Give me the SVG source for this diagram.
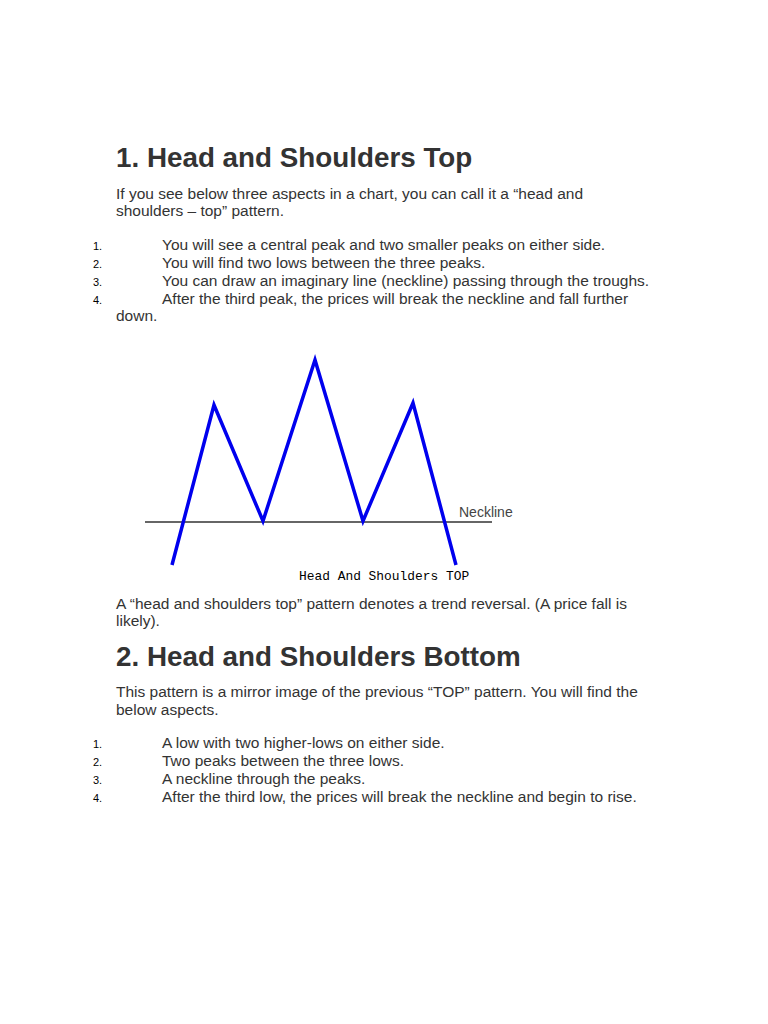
<svg xmlns="http://www.w3.org/2000/svg" width="768" height="1024" viewBox="0 0 768 1024">
<style>
.h{font-family:"Liberation Sans",Arial,sans-serif;font-weight:bold;font-size:27.8px;fill:#333}
.b{font-family:"Liberation Sans",Arial,sans-serif;font-size:15.5px;fill:#333}
.n{font-family:"Liberation Sans",Arial,sans-serif;font-size:11px;fill:#000}
.m{font-family:"Liberation Mono","Courier New",monospace;font-size:12.9px;fill:#000}
</style>
<rect width="768" height="1024" fill="#fff"/>
<text class="h" x="116" y="167">1. Head and Shoulders Top</text>
<text class="b" x="116" y="199">If you see below three aspects in a chart, you can call it a “head and</text>
<text class="b" x="116" y="216">shoulders – top” pattern.</text>
<text class="n" x="93" y="250">1.</text><text class="b" x="162" y="250">You will see a central peak and two smaller peaks on either side.</text>
<text class="n" x="93" y="268">2.</text><text class="b" x="162" y="268">You will find two lows between the three peaks.</text>
<text class="n" x="93" y="286">3.</text><text class="b" x="162" y="286">You can draw an imaginary line (neckline) passing through the troughs.</text>
<text class="n" x="93" y="304">4.</text><text class="b" x="162" y="304">After the third peak, the prices will break the neckline and fall further</text>
<text class="b" x="116" y="321">down.</text>
<line x1="145" y1="522" x2="492" y2="522" stroke="#333" stroke-width="1.5"/>
<polyline points="172,565 214,405 263,521 315,360 363,521 413,403 456,565" fill="none" stroke="#0000ee" stroke-width="3.5" stroke-linejoin="miter"/>
<text class="b" x="459" y="517" style="fill:#444;font-size:14px">Neckline</text>
<text class="m" x="299" y="580">Head And Shoulders TOP</text>
<text class="b" x="116" y="609">A “head and shoulders top” pattern denotes a trend reversal. (A price fall is</text>
<text class="b" x="116" y="626">likely).</text>
<text class="h" x="116" y="666">2. Head and Shoulders Bottom</text>
<text class="b" x="116" y="697">This pattern is a mirror image of the previous “TOP” pattern. You will find the</text>
<text class="b" x="116" y="715">below aspects.</text>
<text class="n" x="93" y="748">1.</text><text class="b" x="162" y="748">A low with two higher-lows on either side.</text>
<text class="n" x="93" y="766">2.</text><text class="b" x="162" y="766">Two peaks between the three lows.</text>
<text class="n" x="93" y="784">3.</text><text class="b" x="162" y="784">A neckline through the peaks.</text>
<text class="n" x="93" y="802">4.</text><text class="b" x="162" y="802">After the third low, the prices will break the neckline and begin to rise.</text>
</svg>
